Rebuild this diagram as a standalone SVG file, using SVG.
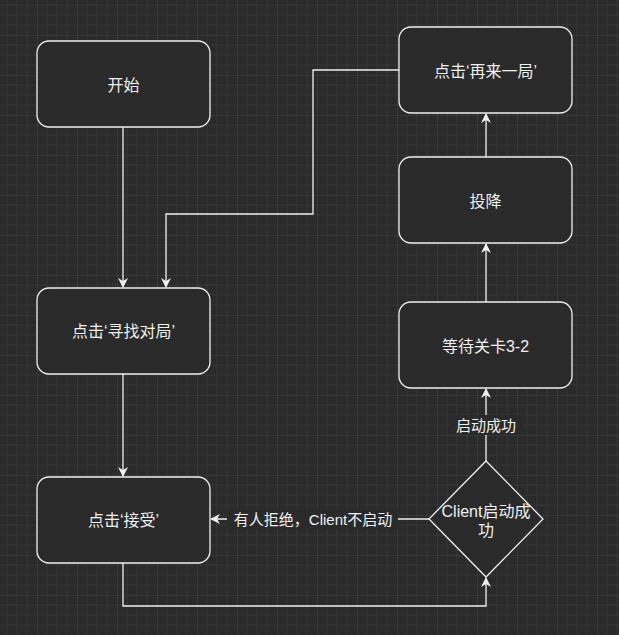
<svg xmlns="http://www.w3.org/2000/svg" width="619" height="635" viewBox="0 0 619 635">
<defs>
<pattern id="g" width="40" height="40" patternUnits="userSpaceOnUse" x="-3" y="-5">
<path d="M10 0V40M20 0V40M30 0V40M0 10H40M0 20H40M0 30H40" stroke="#363636" stroke-width="1" fill="none"/>
<path d="M0 0V40M0 0H40" stroke="#454545" stroke-width="1" fill="none"/>
</pattern>
<marker id="a" markerWidth="10" markerHeight="10" refX="9" refY="5" orient="auto" markerUnits="userSpaceOnUse">
<path d="M0 0L10 5L0 10L3 5Z" fill="#f0f0f0"/>
</marker>
<style>
.n{fill:#2a2a2a;stroke:#f0f0f0;stroke-width:1.3}
.t{fill:#f0f0f0;font-family:"Liberation Sans","Noto Sans CJK SC",sans-serif;font-size:16px;text-anchor:middle;dominant-baseline:central}
.l{font-size:15px}
.c{fill:none;stroke:#f0f0f0;stroke-width:1.3;marker-end:url(#a)}
.lb{fill:#2a2a2a}
</style>
</defs>
<rect width="619" height="635" fill="#2a2a2a"/>
<rect width="619" height="635" fill="url(#g)"/>
<g id="connectors">
<path class="c" d="M123 127V287"/>
<path class="c" d="M399 70H313V214H166V287"/>
<path class="c" d="M123 374V476"/>
<path class="c" d="M123 563V606H486V578"/>
<path class="c" d="M486 461V389"/>
<path class="c" d="M486 302V244"/>
<path class="c" d="M486 157V114"/>
<path class="c" d="M429 519H211"/>
<rect class="lb" x="450" y="415" width="72" height="20"/>
<text class="t l" x="486" y="425">启动成功</text>
<rect class="lb" x="227" y="509" width="171" height="20"/>
<text class="t l" x="313" y="519">有人拒绝，Client不启动</text>
</g>
<g id="start"><rect class="n" x="37" y="41" width="173" height="86" rx="12"/><text class="t" x="123.5" y="85">开始</text></g>
<g id="find"><rect class="n" x="37" y="288" width="173" height="86" rx="12"/><text class="t" x="123.5" y="331">点击‘寻找对局’</text></g>
<g id="accept"><rect class="n" x="37" y="477" width="173" height="86" rx="12"/><text class="t" x="123.5" y="520">点击‘接受’</text></g>
<g id="again"><rect class="n" x="399" y="27" width="173" height="86" rx="12"/><text class="t" x="485.5" y="71">点击‘再来一局’</text></g>
<g id="surrender"><rect class="n" x="399" y="157" width="173" height="86" rx="12"/><text class="t" x="485.5" y="201">投降</text></g>
<g id="wait"><rect class="n" x="399" y="302" width="173" height="86" rx="12"/><text class="t" x="485.5" y="346">等待关卡3-2</text></g>
<g id="decision"><path class="n" d="M486 461L543 519L486 577L429 519Z"/><text class="t" x="486" y="511">Client启动成</text><text class="t" x="486" y="530">功</text></g>
</svg>
